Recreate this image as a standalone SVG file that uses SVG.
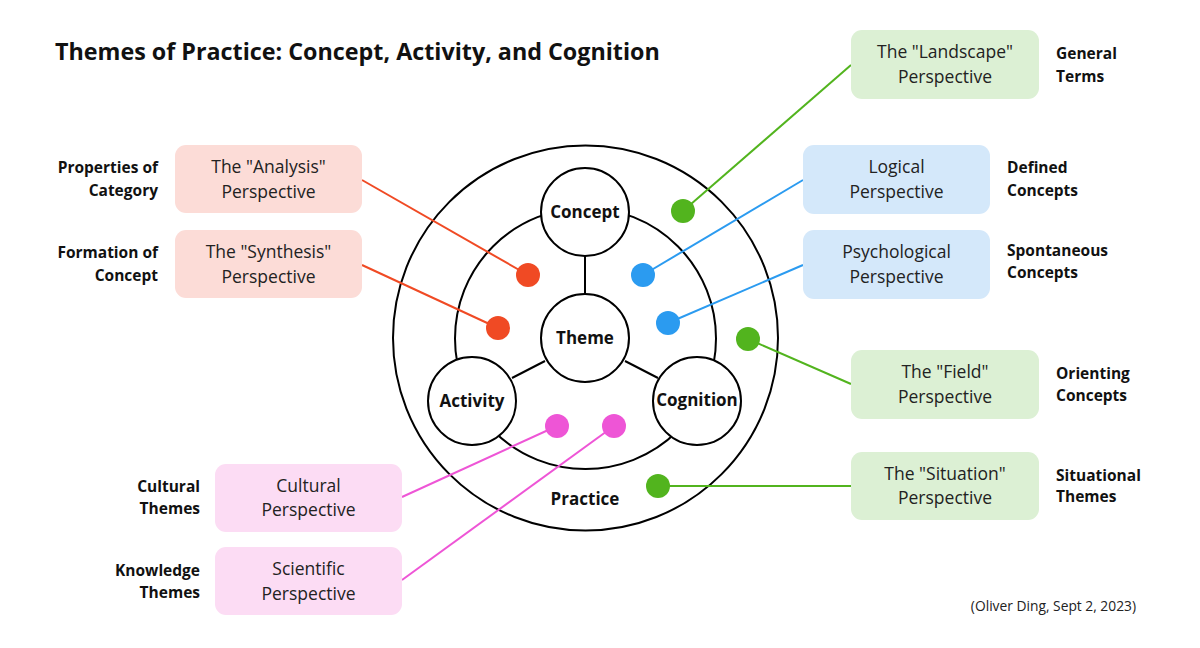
<svg xmlns="http://www.w3.org/2000/svg" width="1200" height="648" viewBox="0 0 1200 648">
<style>
.bg{fill:#ffffff}
.ring{fill:none;stroke:#000;stroke-width:2}
.node{fill:#fff;stroke:#000;stroke-width:2}
.spoke{stroke:#000;stroke-width:2}
.nl{font-family:"Open Sans","Liberation Sans",sans-serif;font-weight:bold;font-size:17px;fill:#111;text-anchor:middle}
.bt{font-family:"Open Sans","Liberation Sans",sans-serif;font-size:17.5px;fill:#222;text-anchor:middle}
.sl{font-family:"Open Sans","Liberation Sans",sans-serif;font-weight:bold;font-size:15.5px;fill:#111}
.red{fill:#fcdcd7}.pink{fill:#fcdcf4}.green{fill:#dcf0d4}.blue{fill:#d4e8fa}
.dr{fill:#f04a24}.db{fill:#2b9bf0}.dg{fill:#52b41e}.dp{fill:#ee55d6}
.cr{stroke:#f04a24;stroke-width:2}.cb{stroke:#2b9bf0;stroke-width:2}.cg{stroke:#52b41e;stroke-width:2}.cp{stroke:#ee55d6;stroke-width:2}
</style>
<rect class="bg" x="0" y="0" width="1200" height="648"/>
<text x="55" y="60" font-family="'Open Sans','Liberation Sans',sans-serif" font-weight="bold" font-size="23.3" fill="#111">Themes of Practice: Concept, Activity, and Cognition</text>

<g id="practice">
<circle class="ring" cx="585.5" cy="338" r="192.5"/>
<text class="nl" x="585" y="505">Practice</text>
</g>
<g id="inner-ring">
<circle class="ring" cx="585.5" cy="338.5" r="130.5"/>
</g>

<g id="connectors">
<line class="spoke" x1="585" y1="256" x2="585" y2="294"/>
<line class="spoke" x1="545" y1="361" x2="512" y2="378"/>
<line class="spoke" x1="625" y1="361" x2="658" y2="378"/>
<line class="cr" x1="362" y1="180" x2="528" y2="275"/>
<line class="cr" x1="362" y1="265" x2="498" y2="328"/>
<line class="cp" x1="402" y1="497" x2="557" y2="426"/>
<line class="cp" x1="402" y1="580" x2="614" y2="426"/>
<line class="cg" x1="851" y1="65" x2="683" y2="211"/>
<line class="cb" x1="803" y1="180" x2="643" y2="275"/>
<line class="cb" x1="803" y1="265" x2="668" y2="323"/>
<line class="cg" x1="851" y1="384" x2="748" y2="339"/>
<line class="cg" x1="851" y1="486" x2="658" y2="486"/>
</g>

<g id="concept"><circle class="node" cx="585" cy="212" r="44"/><text class="nl" x="585" y="218">Concept</text></g>
<g id="theme"><circle class="node" cx="585" cy="338" r="44"/><text class="nl" x="585" y="344" font-size="17.5">Theme</text></g>
<g id="activity"><circle class="node" cx="472" cy="401" r="44"/><text class="nl" x="472" y="407" font-size="17.5">Activity</text></g>
<g id="cognition"><circle class="node" cx="697" cy="401" r="44"/><text class="nl" x="697" y="406" font-size="14.5">Cognition</text></g>

<g id="dots">
<circle class="dr" cx="528" cy="275" r="12"/>
<circle class="dr" cx="498" cy="328" r="12"/>
<circle class="db" cx="643" cy="275" r="12"/>
<circle class="db" cx="668" cy="323" r="12"/>
<circle class="dg" cx="683" cy="211" r="12"/>
<circle class="dg" cx="748" cy="339" r="12"/>
<circle class="dg" cx="658" cy="486" r="12"/>
<circle class="dp" cx="557" cy="426" r="12"/>
<circle class="dp" cx="614" cy="426" r="12"/>
</g>

<g id="analysis">
<rect class="red" x="175" y="145" width="187" height="68" rx="11"/>
<text class="bt" x="268.5" y="173">The "Analysis"</text>
<text class="bt" x="268.5" y="198">Perspective</text>
<text class="sl" x="158" y="173" text-anchor="end">Properties of</text>
<text class="sl" x="158" y="196" text-anchor="end">Category</text>
</g>
<g id="synthesis">
<rect class="red" x="175" y="230" width="187" height="68" rx="11"/>
<text class="bt" x="268.5" y="258">The "Synthesis"</text>
<text class="bt" x="268.5" y="283">Perspective</text>
<text class="sl" x="158" y="258" text-anchor="end">Formation of</text>
<text class="sl" x="158" y="281" text-anchor="end">Concept</text>
</g>
<g id="cultural">
<rect class="pink" x="215" y="464" width="187" height="68" rx="11"/>
<text class="bt" x="308.5" y="492">Cultural</text>
<text class="bt" x="308.5" y="516">Perspective</text>
<text class="sl" x="200" y="492" text-anchor="end">Cultural</text>
<text class="sl" x="200" y="514" text-anchor="end">Themes</text>
</g>
<g id="scientific">
<rect class="pink" x="215" y="547" width="187" height="68" rx="11"/>
<text class="bt" x="308.5" y="575">Scientific</text>
<text class="bt" x="308.5" y="600">Perspective</text>
<text class="sl" x="200" y="576" text-anchor="end">Knowledge</text>
<text class="sl" x="200" y="598" text-anchor="end">Themes</text>
</g>
<g id="landscape">
<rect class="green" x="851" y="30" width="188" height="69" rx="11"/>
<text class="bt" x="945" y="58">The "Landscape"</text>
<text class="bt" x="945" y="83">Perspective</text>
<text class="sl" x="1056" y="59">General</text>
<text class="sl" x="1056" y="82">Terms</text>
</g>
<g id="logical">
<rect class="blue" x="803" y="145" width="187" height="69" rx="11"/>
<text class="bt" x="896.5" y="173">Logical</text>
<text class="bt" x="896.5" y="198">Perspective</text>
<text class="sl" x="1007" y="173">Defined</text>
<text class="sl" x="1007" y="196">Concepts</text>
</g>
<g id="psychological">
<rect class="blue" x="803" y="230" width="187" height="69" rx="11"/>
<text class="bt" x="896.5" y="258">Psychological</text>
<text class="bt" x="896.5" y="283">Perspective</text>
<text class="sl" x="1007" y="256">Spontaneous</text>
<text class="sl" x="1007" y="278">Concepts</text>
</g>
<g id="field">
<rect class="green" x="851" y="350" width="188" height="69" rx="11"/>
<text class="bt" x="945" y="378">The "Field"</text>
<text class="bt" x="945" y="403">Perspective</text>
<text class="sl" x="1056" y="379">Orienting</text>
<text class="sl" x="1056" y="401">Concepts</text>
</g>
<g id="situation">
<rect class="green" x="851" y="452" width="188" height="68" rx="11"/>
<text class="bt" x="945" y="480">The "Situation"</text>
<text class="bt" x="945" y="504">Perspective</text>
<text class="sl" x="1056" y="481">Situational</text>
<text class="sl" x="1056" y="502">Themes</text>
</g>
<text x="1136" y="611" text-anchor="end" font-family="'Open Sans','Liberation Sans',sans-serif" font-size="13.8" fill="#222">(Oliver Ding, Sept 2, 2023)</text>
</svg>
